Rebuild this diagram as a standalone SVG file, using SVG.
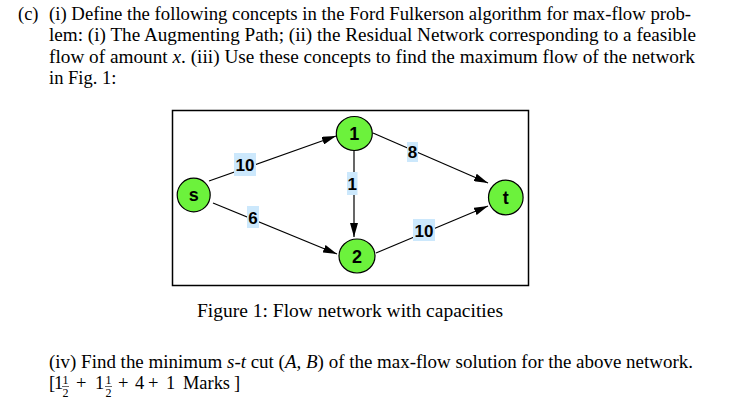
<svg xmlns="http://www.w3.org/2000/svg" width="741" height="420" viewBox="0 0 741 420">
<style>
.t{font-family:"Liberation Serif","Times New Roman",serif;font-size:18.5px;fill:#000}
.i{font-style:italic}
.sm{font-family:"Liberation Serif","Times New Roman",serif;font-size:12px;fill:#000}
.node ellipse{fill:#6cf23c;stroke:#000;stroke-width:1.2}
.nl{font-family:"Liberation Sans",Arial,sans-serif;font-weight:bold;font-size:18px;fill:#000;text-anchor:middle}
.edge{stroke:#000;stroke-width:1.2;fill:none;marker-end:url(#arr)}
.lbg{fill:#cce8fc}
.lt{font-family:"Liberation Sans",Arial,sans-serif;font-weight:bold;font-size:17px;fill:#000;text-anchor:middle}
</style>
<defs>
<marker id="arr" markerUnits="userSpaceOnUse" markerWidth="14" markerHeight="8" refX="14" refY="4" orient="auto">
<path d="M0,0 L14,4 L0,8 z" fill="#000"/>
</marker>
</defs>
<rect width="741" height="420" fill="#fff"/>
<text class="t" x="18" y="19.5">(c)</text>
<text class="t" x="49" y="19.5" textLength="642" lengthAdjust="spacingAndGlyphs">(i) Define the following concepts in the Ford Fulkerson algorithm for max-flow prob-</text>
<text class="t" x="49" y="41" textLength="647" lengthAdjust="spacingAndGlyphs">lem: (i) The Augmenting Path; (ii) the Residual Network corresponding to a feasible</text>
<text class="t" x="49" y="62.5" textLength="646" lengthAdjust="spacingAndGlyphs">flow of amount <tspan class="i">x</tspan>. (iii) Use these concepts to find the maximum flow of the network</text>
<text class="t" x="49" y="84">in Fig. 1:</text>

<rect x="172.5" y="110.5" width="356" height="175" fill="none" stroke="#000" stroke-width="1.5"/>
<g id="connectors">
<line class="edge" x1="209" y1="181" x2="336" y2="136"/>
<line class="edge" x1="213" y1="203" x2="337" y2="254"/>
<line class="edge" x1="373" y1="133" x2="488" y2="183"/>
<line class="edge" x1="376" y1="253" x2="488" y2="206"/>
<line class="edge" x1="354" y1="151" x2="354" y2="237"/>
<rect class="lbg" x="234" y="153" width="22" height="23"/>
<text class="lt" x="245" y="171">10</text>
<rect class="lbg" x="247" y="206" width="12" height="22"/>
<text class="lt" x="253" y="223.5">6</text>
<rect class="lbg" x="407" y="142" width="11" height="20"/>
<text class="lt" x="412.5" y="158">8</text>
<rect class="lbg" x="347" y="172" width="10.5" height="23"/>
<text class="lt" x="352.3" y="190">1</text>
<rect class="lbg" x="413" y="219" width="22" height="22"/>
<text class="lt" x="424" y="236.5">10</text>
</g>
<g id="node-s" class="node"><ellipse cx="193.7" cy="195" rx="16.5" ry="16.8"/><text class="nl" x="193.7" y="201">s</text></g>
<g id="node-1" class="node"><ellipse cx="354.3" cy="133.5" rx="18" ry="17"/><text class="nl" x="354.3" y="140">1</text></g>
<g id="node-2" class="node"><ellipse cx="357" cy="256" rx="18" ry="17"/><text class="nl" x="357" y="262.5">2</text></g>
<g id="node-t" class="node"><ellipse cx="505.8" cy="197.5" rx="17.3" ry="17.3"/><text class="nl" x="505.8" y="204">t</text></g>

<text class="t" x="197" y="317" textLength="306" lengthAdjust="spacingAndGlyphs">Figure 1: Flow network with capacities</text>

<text class="t" x="49" y="368" textLength="644" lengthAdjust="spacingAndGlyphs">(iv) Find the minimum <tspan class="i">s</tspan>-<tspan class="i">t</tspan> cut (<tspan class="i">A</tspan>, <tspan class="i">B</tspan>) of the max-flow solution for the above network.</text>
<text class="t" x="49" y="389">[</text>
<text class="t" x="54" y="389">1</text>
<text class="sm" x="62.5" y="384">1</text>
<line x1="62" y1="386.5" x2="69" y2="386.5" stroke="#000" stroke-width="0.6"/>
<text class="sm" x="62.5" y="396.5">2</text>
<text class="t" x="76" y="389">+</text>
<text class="t" x="95" y="389">1</text>
<text class="sm" x="105.5" y="384">1</text>
<line x1="105" y1="386.5" x2="112" y2="386.5" stroke="#000" stroke-width="0.6"/>
<text class="sm" x="105.5" y="396.5">2</text>
<text class="t" x="118" y="389">+</text>
<text class="t" x="135" y="389">4</text>
<text class="t" x="148" y="389">+</text>
<text class="t" x="166" y="389">1</text>
<text class="t" x="183" y="389" textLength="47" lengthAdjust="spacingAndGlyphs">Marks</text>
<text class="t" x="234" y="389">]</text>
</svg>
